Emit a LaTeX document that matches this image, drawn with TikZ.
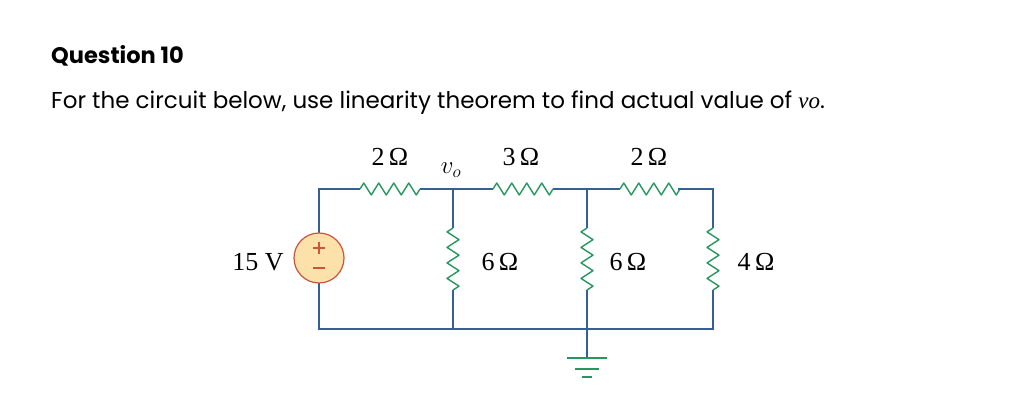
\documentclass[tikz,border=0pt]{standalone}
\usepackage{fontspec}
\setmainfont{Poppins}
\newfontfamily\serifx{Liberation Serif}
\begin{document}
\begin{tikzpicture}[x=1pt,y=-1pt,
  wire/.style={draw={rgb,255:red,52;green,96;blue,150},line width=1.6pt},
  resz/.style={draw={rgb,255:red,40;green,150;blue,95},line width=1.4pt,line join=round},
  lbl/.style={font=\serifx\fontsize{26}{28}\selectfont,inner sep=0pt}]
\useasboundingbox (0,0) rectangle (1024,409);
\fill[white] (0,0) rectangle (1024,409);
\node[anchor=west,inner sep=0pt,font=\bfseries\fontsize{22.5}{26}\selectfont] (title) at (51,56) {Question 10};
\node[anchor=west,inner sep=0pt,font=\fontsize{23}{28}\selectfont] (q) at (51,103) {For the circuit below, use linearity theorem to find actual value of \textit{\serifx vo}.};
% nodes
\coordinate (tl) at (319,189); \coordinate (bl) at (319,329);
\coordinate (n1) at (453,189); \coordinate (b1) at (453,329);
\coordinate (n2) at (587,189); \coordinate (b2) at (587,329);
\coordinate (tr) at (713,189); \coordinate (br) at (713,329);
\coordinate (g) at (587,358);
% wires
\draw[wire] (319,233) -- (tl) -- (360,189);
\draw[wire] (420,189) -- (n1) -- (493,189);
\draw[wire] (553,189) -- (n2) -- (620,189);
\draw[wire] (678,189) -- (tr) -- (713,228);
\draw[wire] (n1) -- (453,228); \draw[wire] (453,290) -- (b1);
\draw[wire] (n2) -- (587,228); \draw[wire] (587,290) -- (b2);
\draw[wire] (713,290) -- (br) -- (bl) -- (319,283);
\draw[wire] (b2) -- (g);
% ground
\draw[resz,line width=2pt] (567,358) -- (607,358) (575,369) -- (599,369) (582,377) -- (592,377);
% horizontal resistors
\foreach \a in {360,493,620}{
 \draw[resz] (\a,189) -- ++(3.75,-6) -- ++(7.5,12) -- ++(7.5,-12) -- ++(7.5,12) -- ++(7.5,-12) -- ++(7.5,12) -- ++(7.5,-12) -- ++(7.5,12) -- ++(3.75,-6);}
\foreach \a in {453,587,713}{
 \draw[resz] (\a,228) -- ++(-6,3.9) -- ++(12,7.75) -- ++(-12,7.75) -- ++(12,7.75) -- ++(-12,7.75) -- ++(12,7.75) -- ++(-12,7.75) -- ++(12,7.75) -- ++(-6,3.9);}
% source
\node[circle,minimum size=50pt,inner sep=0pt,draw={rgb,255:red,200;green,85;blue,60},line width=1.2pt,fill={rgb,255:red,252;green,226;blue,170}] (src) at (319,258) {};
\draw[draw={rgb,255:red,200;green,85;blue,60},line width=1.3pt] (313,248) -- (325,248) (319,242) -- (319,254) (313,268) -- (325,268);
% labels
\node[lbl] (l1) at (390,157) {2\,Ω};
\node[lbl,font=\serifx\fontsize{26}{28}\selectfont] (lvo) at (451,170) {$v_o$};
\node[lbl] (l2) at (521,157) {3\,Ω};
\node[lbl] (l3) at (649,157) {2\,Ω};
\node[lbl] (l4) at (500,262) {6\,Ω};
\node[lbl] (l5) at (628,262) {6\,Ω};
\node[lbl] (l6) at (756,262) {4\,Ω};
\node[lbl] (l7) at (258,262) {15 V};
\end{tikzpicture}
\end{document}
